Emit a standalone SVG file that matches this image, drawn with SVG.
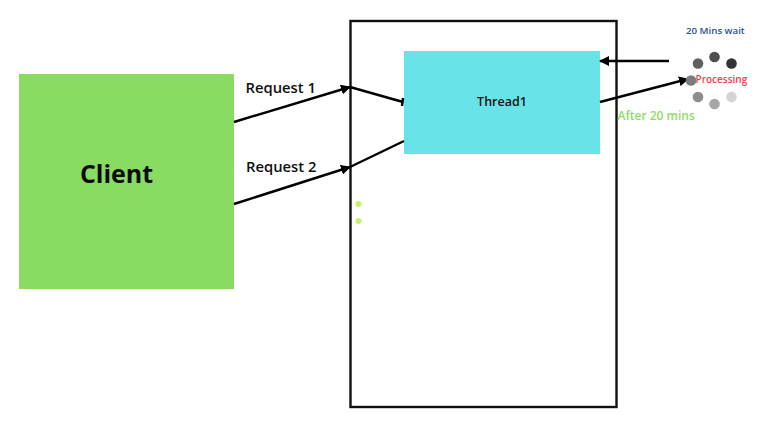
<svg xmlns="http://www.w3.org/2000/svg" width="768" height="425" viewBox="0 0 768 425">
<style>
text{font-family:"Open Sans","Noto Sans",sans-serif;font-weight:600}
.l{font-size:14.800px;fill:#111}
.c{fill:none;stroke:#000;stroke-width:2.400}
.ah{fill:#000}
</style>
<defs>
<marker id="a" viewBox="0 0 10 10" refX="9" refY="5" markerWidth="10" markerHeight="10" markerUnits="userSpaceOnUse" orient="auto"><path d="M0 0L10 5L0 10Z" class="ah"/></marker>
</defs>
<rect width="768" height="425" fill="#fff"/>
<g id="container"><rect x="350.500" y="21" width="266" height="386" fill="#fff" stroke="#111" stroke-width="2.400"/>
<circle cx="358.500" cy="204" r="3" fill="#c1f36f"/><circle cx="358.500" cy="221" r="3" fill="#c1f36f"/></g>
<g id="client"><rect x="19" y="74" width="215" height="215" fill="#89db62"/><text x="116.500" y="183" text-anchor="middle" fill="#0b0b0b" style="font-size:25px;font-weight:700">Client</text></g>
<g id="thread1"><rect x="404" y="51" width="196" height="103" fill="#68e4e9"/><text x="502" y="106" text-anchor="middle" style="font-size:12.500px" fill="#111">Thread1</text></g>
<g id="connectors">
<path class="c" marker-end="url(#a)" d="M234 122L350 87"/>
<path class="c" d="M350 87L403 102"/>
<path class="c" d="M403 98L402 106"/>
<path class="c" marker-end="url(#a)" d="M234 204L350 167"/>
<path class="c" d="M350 167L404 141"/>
<path class="c" marker-end="url(#a)" d="M669 61L600 61"/>
<path class="c" marker-end="url(#a)" d="M600 102L688 79"/>
</g>
<g id="labels">
<text class="l" x="245.500" y="93">Request 1</text>
<text class="l" x="246" y="172">Request 2</text>
<text x="617.500" y="120" style="font-size:12px" fill="#8ddc68">After 20 mins</text>
</g>
<g id="processing">
<text x="686" y="34" style="font-size:9.700px" fill="#27509f">20 Mins wait</text>
<circle cx="714.500" cy="57" r="5.300" fill="#505050"/>
<circle cx="731.500" cy="63.500" r="5.300" fill="#333"/>
<circle cx="698" cy="63.500" r="5.300" fill="#606060"/>
<circle cx="691" cy="80.500" r="5.300" fill="#7c7c7c"/>
<circle cx="698" cy="97" r="5.300" fill="#8d8d8d"/>
<circle cx="714.500" cy="104" r="5.300" fill="#a6a6a6"/>
<circle cx="731.500" cy="97" r="5.300" fill="#d4d4d4"/>
<text x="695.500" y="83" style="font-size:10px" fill="#f5404c">Processing</text>
</g>
</svg>
